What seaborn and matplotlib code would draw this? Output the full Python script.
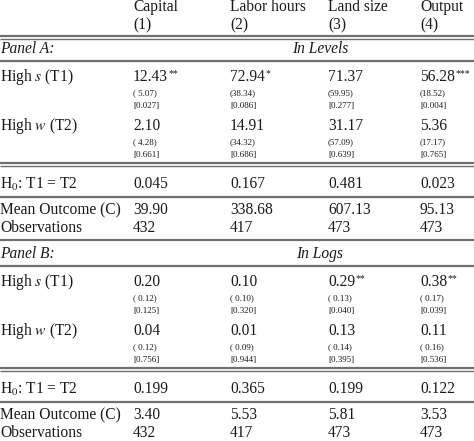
import matplotlib
matplotlib.use("Agg")
import matplotlib.pyplot as plt
import seaborn as sns

# ========== DATA ==========
COLUMNS = ["Capital", "Labor hours", "Land size", "Output"]
COL_NUMS = ["(1)", "(2)", "(3)", "(4)"]

A_T1 = ["12.43", "72.94", "71.37", "56.28"]
A_T1_STARS = ["**", "*", "", "***"]
A_T1_SE = ["( 5.07)", "(38.34)", "(59.95)", "(18.52)"]
A_T1_P = ["[0.027]", "[0.086]", "[0.277]", "[0.004]"]
A_T2 = ["2.10", "14.91", "31.17", "5.36"]
A_T2_STARS = ["", "", "", ""]
A_T2_SE = ["( 4.28)", "(34.32)", "(57.09)", "(17.17)"]
A_T2_P = ["[0.661]", "[0.686]", "[0.639]", "[0.765]"]
A_H0 = ["0.045", "0.167", "0.481", "0.023"]
A_MEAN = ["39.90", "338.68", "607.13", "95.13"]
A_OBS = ["432", "417", "473", "473"]

B_T1 = ["0.20", "0.10", "0.29", "0.38"]
B_T1_STARS = ["", "", "**", "**"]
B_T1_SE = ["( 0.12)", "( 0.10)", "( 0.13)", "( 0.17)"]
B_T1_P = ["[0.125]", "[0.320]", "[0.040]", "[0.039]"]
B_T2 = ["0.04", "0.01", "0.13", "0.11"]
B_T2_STARS = ["", "", "", ""]
B_T2_SE = ["( 0.12)", "( 0.09)", "( 0.14)", "( 0.16)"]
B_T2_P = ["[0.756]", "[0.944]", "[0.395]", "[0.536]"]
B_H0 = ["0.199", "0.365", "0.199", "0.122"]
B_MEAN = ["3.40", "5.53", "5.81", "3.53"]
B_OBS = ["432", "417", "473", "473"]

# ========== LAYOUT ==========
sns.set_theme(style="white")
plt.rcParams["font.family"] = ["Liberation Serif", "DejaVu Serif"]
plt.rcParams["mathtext.fontset"] = "stix"

W, H = 474, 441
COL_X = [133, 230, 328, 420]
BIG, SMALL = 11.2, 6.5
LINE_C = "#6f6f6f"

fig = plt.figure(figsize=(W / 100, H / 100), dpi=100)
ax = fig.add_axes([0, 0, 1, 1])
ax.set_xlim(0, W)
ax.set_ylim(H, 0)
ax.axis("off")


def txt(x, y, s, size=BIG, **kw):
    ax.text(x, y, s, fontsize=size, va="center", ha="left", color="#1a1a1a", **kw)


def hline(y, lw=1.6):
    ax.plot([0, W], [y, y], color=LINE_C, lw=lw, solid_capstyle="butt")


def coef_block(y, label, vals, stars, ses, ps):
    txt(0, y, label)
    for x, v, st, se, p in zip(COL_X, vals, stars, ses, ps):
        t = ax.text(x, y, v, fontsize=BIG, va="center", ha="left", color="#1a1a1a")
        if st:
            ax.annotate(st, xy=(1, 1), xycoords=t, fontsize=7, va="top",
                        ha="left", xytext=(0.5, 0), textcoords="offset points",
                        color="#1a1a1a")
        txt(x, y + 16, se, SMALL)
        txt(x, y + 29, p, SMALL)


def panel(y0, name, title, t1, t1s, t1se, t1p, t2, t2s, t2se, t2p, h0, mean, obs):
    txt(0, y0, name, style="italic")
    ax.text(320, y0, title, fontsize=BIG, va="center", ha="center", style="italic",
            color="#1a1a1a")
    hline(y0 + 12)
    coef_block(y0 + 28, "High $\\mathit{s}$ (T1)", t1, t1s, t1se, t1p)
    coef_block(y0 + 77, "High $\\mathit{w}$ (T2)", t2, t2s, t2se, t2p)
    hline(y0 + 114)
    hline(y0 + 117, lw=1.0)
    txt(0, y0 + 135, "H$_0$: T1 = T2")
    for x, v in zip(COL_X, h0):
        txt(x, y0 + 135, v)
    hline(y0 + 148)
    txt(0, y0 + 161, "Mean Outcome (C)")
    txt(0, y0 + 179, "Observations")
    for x, m, o in zip(COL_X, mean, obs):
        txt(x, y0 + 161, m)
        txt(x, y0 + 179, o)


for x, c, n in zip(COL_X, COLUMNS, COL_NUMS):
    txt(x, 7, c)
    txt(x, 25, n)
hline(36)
hline(39, lw=1.0)

panel(49, "Panel A:", "In Levels", A_T1, A_T1_STARS, A_T1_SE, A_T1_P,
      A_T2, A_T2_STARS, A_T2_SE, A_T2_P, A_H0, A_MEAN, A_OBS)
hline(240)
panel(254, "Panel B:", "In Logs", B_T1, B_T1_STARS, B_T1_SE, B_T1_P,
      B_T2, B_T2_STARS, B_T2_SE, B_T2_P, B_H0, B_MEAN, B_OBS)

fig.savefig("out.png", dpi=100, facecolor="white")
